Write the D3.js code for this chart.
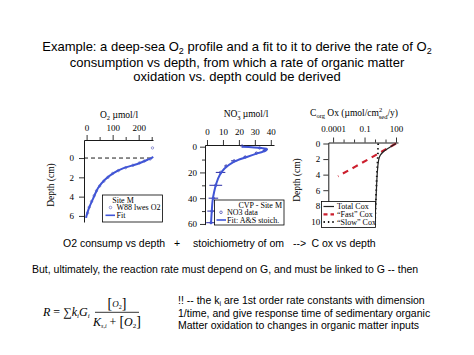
<!DOCTYPE html>
<html>
<head>
<meta charset="utf-8">
<script src="https://cdn.jsdelivr.net/npm/d3@7"></script>
<style>
  body { margin: 0; background: #fff; }
  .sans { font-family: "Liberation Sans", Arial, sans-serif; }
  .serif { font-family: "Liberation Serif", "Times New Roman", serif; }
</style>
</head>
<body>
<svg width="474" height="355"></svg>
<script>
// ---- O2 profile (umol/l vs depth cm)
var o2FitDepth = [-0.15, 0, 0.18, 0.62, 1.04, 1.56, 2.25, 3.1, 4.2, 5.2, 6.05, 6.2];
var o2FitValue = [255, 250, 234, 195, 142, 103, 70, 44, 25, 9, -1, -2];
var o2DataDepth = [-1.05, 0.1, 0.3, 0.5, 0.75, 1.0, 1.3, 1.6, 2.0, 2.4, 2.9, 3.4, 3.9, 4.5, 5.1, 5.7];
var o2DataValue = [253, 244, 222, 203, 178, 150, 122, 100, 82, 66, 50, 38, 29, 19, 10, 4];
var o2Ticks = [0, 100, 200];
var o2Minor = [50, 150, 250];
var o2DepthTicks = [0, 2, 4, 6];

// ---- NO3 profile
var no3FitDepth = [0, 1, 2, 3, 5, 8, 12, 17, 22, 28, 35, 42, 50, 60];
var no3FitValue = [22, 34, 37.5, 37, 32, 25, 16.5, 11, 8, 6, 4.5, 3.5, 3, 2.5];
var no3DataDepth = [-0.5, 1, 2, 3, 5, 8, 11, 15, 20, 30, 40, 50, 59];
var no3DataValue = [22, 33, 37, 36, 31, 24, 17, 12, 8.5, 5.5, 4, 3.2, 2.5];
var no3DataErr = [0, 0, 1, 1, 1, 1, 2, 1, 3, 4, 3, 3, 3];
var no3Ticks = [0, 10, 20, 30, 40];
var no3DepthTicks = [0, 20, 40, 60];
var no3DepthMinor = [10, 30, 50];

// ---- Corg oxidation
var coxTotalDepth = [0, 0.5, 1, 1.5, 2, 2.3, 4, 6, 8, 10];
var coxTotal = [100, 24, 7, 3.2, 2.3, 2.1, 1.6, 1.35, 1.15, 1.0];
var coxFastDepth = [0, 1, 2, 3, 4.2];
var coxFast = [100, 5, 0.25, 0.012, 0.0003];
var coxSlowDepth = [0, 2, 4, 6, 8, 10];
var coxSlow = [2.0, 1.8, 1.5, 1.3, 1.15, 1.0];
var coxTicks = [0.0001, 0.1, 100];
var coxMinor = [0.001, 0.01, 1, 10];
var coxDepthTicks = [0, 2, 4, 6, 8, 10];

var fitBlue = "#4055d6";
var serif = "Liberation Serif, Times New Roman, serif";

var svg = d3.select("svg");

function zip(a, b) {
  return a.map(function(d, i) { return [d, b[i]]; });
}

function styleAxis(g) {
  g.selectAll("text").attr("font-family", serif).attr("font-size", 9).attr("fill", "#000");
  g.selectAll("line").attr("stroke", "#000").attr("stroke-width", 0.8);
  g.select(".domain").attr("stroke", "#000").attr("stroke-width", 0.9);
}

function drawAxes(sx, sy, xTicks, xMinor, yTicks, yMinor, xfmt, xpad, ypad) {
  var top = sy.range()[0], left = sx.range()[0];
  var gx = svg.append("g").attr("transform", "translate(0," + top + ")")
      .call(d3.axisTop(sx).tickValues(xTicks).tickSize(5).tickSizeOuter(0).tickPadding(xpad).tickFormat(xfmt));
  styleAxis(gx);
  if (xMinor.length) {
    var gm = svg.append("g").attr("transform", "translate(0," + top + ")")
        .call(d3.axisTop(sx).tickValues(xMinor).tickSize(3).tickFormat(""));
    gm.select(".domain").remove();
    styleAxis(gm);
  }
  var gy = svg.append("g").attr("transform", "translate(" + left + ",0)")
      .call(d3.axisLeft(sy).tickValues(yTicks).tickSize(5).tickSizeOuter(0).tickPadding(ypad));
  styleAxis(gy);
  if (yMinor.length) {
    var gn = svg.append("g").attr("transform", "translate(" + left + ",0)")
        .call(d3.axisLeft(sy).tickValues(yMinor).tickSize(3).tickFormat(""));
    gn.select(".domain").remove();
    styleAxis(gn);
  }
}

function depthLabel(x, y) {
  svg.append("text").attr("transform", "translate(" + x + "," + y + ") rotate(-90)")
      .attr("text-anchor", "middle").attr("font-family", serif).attr("font-size", 9.5)
      .text("Depth (cm)");
}

// ================= Plot 1: O2
var x1 = d3.scaleLinear().domain([-10, 255]).range([84, 153]);
var y1 = d3.scaleLinear().domain([-1.87, 6.63]).range([140, 222]);
drawAxes(x1, y1, o2Ticks, o2Minor, o2DepthTicks, [], d3.format("d"), 4, 5);

svg.append("line")
    .attr("x1", x1.range()[0]).attr("x2", x1.range()[1])
    .attr("y1", y1(0)).attr("y2", y1(0))
    .attr("stroke", "#000").attr("stroke-width", 0.9).attr("stroke-dasharray", "4,3");

svg.append("g").selectAll("circle")
    .data(zip(o2DataDepth, o2DataValue))
    .enter().append("circle")
    .attr("cx", function(d) { return x1(d[1]); })
    .attr("cy", function(d) { return y1(d[0]); })
    .attr("r", 1.2)
    .attr("fill", "none").attr("stroke", "#6a6fc0").attr("stroke-width", 0.7);

svg.append("path")
    .datum(zip(o2FitDepth, o2FitValue))
    .attr("d", d3.line().curve(d3.curveCatmullRom)
        .x(function(d) { return x1(d[1]); })
        .y(function(d) { return y1(d[0]); }))
    .attr("fill", "none").attr("stroke", fitBlue).attr("stroke-width", 2);

svg.append("text").attr("x", 119).attr("y", 118).attr("text-anchor", "middle")
    .attr("font-family", serif).attr("font-size", 9.5)
    .call(function(t) {
      t.append("tspan").text("O");
      t.append("tspan").attr("font-size", 6.5).attr("dy", 2).text("2");
      t.append("tspan").attr("dy", -2).text(" \u00b5mol/l");
    });
depthLabel(54, 185);

// legend 1
var lg1 = svg.append("g").attr("font-family", serif).attr("font-size", 8);
lg1.append("rect").attr("x", 102.5).attr("y", 195).attr("width", 60).attr("height", 27)
    .attr("fill", "#fff").attr("stroke", "#000").attr("stroke-width", 0.8);
lg1.append("text").attr("x", 123).attr("y", 202.5).attr("text-anchor", "middle").text("Site M");
lg1.append("circle").attr("cx", 110.5).attr("cy", 207.5).attr("r", 1.3)
    .attr("fill", "none").attr("stroke", "#6a6fc0").attr("stroke-width", 0.7);
lg1.append("text").attr("x", 116.5).attr("y", 210.3).text("W88 lwes O2");
lg1.append("line").attr("x1", 105.5).attr("x2", 115).attr("y1", 215.3).attr("y2", 215.3)
    .attr("stroke", fitBlue).attr("stroke-width", 1.6);
lg1.append("text").attr("x", 116.5).attr("y", 218).text("Fit");

// ================= Plot 2: NO3
var x2 = d3.scaleLinear().domain([-1.25, 42]).range([205, 274]);
var y2 = d3.scaleLinear().domain([-1.3, 60.5]).range([145, 224.6]);
drawAxes(x2, y2, no3Ticks, [], no3DepthTicks, no3DepthMinor, d3.format("d"), 5, 3);

var no3 = no3DataDepth.map(function(d, i) {
  return { depth: d, value: no3DataValue[i], err: no3DataErr[i] };
});
var eb = svg.append("g");
eb.selectAll("line.err")
    .data(no3.filter(function(d) { return d.err > 0; }))
    .enter().append("line").attr("class", "err")
    .attr("x1", function(d) { return x2(d.value - d.err); })
    .attr("x2", function(d) { return x2(d.value + d.err); })
    .attr("y1", function(d) { return y2(d.depth); })
    .attr("y2", function(d) { return y2(d.depth); })
    .attr("stroke", "#3d3fae").attr("stroke-width", 1.1);
eb.selectAll("circle")
    .data(no3)
    .enter().append("circle")
    .attr("cx", function(d) { return x2(d.value); })
    .attr("cy", function(d) { return y2(d.depth); })
    .attr("r", 1.2)
    .attr("fill", "none").attr("stroke", "#3d3fae").attr("stroke-width", 0.8);

svg.append("path")
    .datum(zip(no3FitDepth, no3FitValue))
    .attr("d", d3.line().curve(d3.curveCatmullRom)
        .x(function(d) { return x2(d[1]); })
        .y(function(d) { return y2(d[0]); }))
    .attr("fill", "none").attr("stroke", fitBlue).attr("stroke-width", 2);

svg.append("text").attr("x", 246).attr("y", 117).attr("text-anchor", "middle")
    .attr("font-family", serif).attr("font-size", 9.5)
    .call(function(t) {
      t.append("tspan").text("NO");
      t.append("tspan").attr("font-size", 6.5).attr("dy", -3).text("\u2212");
      t.append("tspan").attr("font-size", 6.5).attr("dx", -4).attr("dy", 5.5).text("3");
      t.append("tspan").attr("dy", -2.5).text(" \u00b5mol/l");
    });

var lg2 = svg.append("g").attr("font-family", serif).attr("font-size", 8);
lg2.append("rect").attr("x", 214.5).attr("y", 200).attr("width", 69.5).attr("height", 25)
    .attr("fill", "#fff").attr("stroke", "#000").attr("stroke-width", 0.8);
lg2.append("text").attr("x", 282).attr("y", 207.5).attr("text-anchor", "end").text("CVP - Site M");
lg2.append("circle").attr("cx", 221).attr("cy", 212.3).attr("r", 1.3)
    .attr("fill", "none").attr("stroke", "#3d3fae").attr("stroke-width", 0.7);
lg2.append("text").attr("x", 227).attr("y", 215).text("NO3 data");
lg2.append("line").attr("x1", 216.5).attr("x2", 226).attr("y1", 220).attr("y2", 220)
    .attr("stroke", fitBlue).attr("stroke-width", 1.6);
lg2.append("text").attr("x", 227).attr("y", 222.8).text("Fit: A&S stoich.");

// ================= Plot 3: Cox
var x3 = d3.scaleLog().domain([3.5e-5, 155]).range([328.3, 398]);
var y3 = d3.scaleLinear().domain([-0.13, 10.5]).range([142.5, 225.2]);
drawAxes(x3, y3, coxTicks, coxMinor, coxDepthTicks, [], function(d) { return String(d); }, 6, 3);

var lineCox = d3.line()
    .x(function(d) { return x3(d[1]); })
    .y(function(d) { return y3(d[0]); });

svg.append("path").datum(zip(coxSlowDepth, coxSlow)).attr("d", lineCox)
    .attr("fill", "none").attr("stroke", "#111").attr("stroke-width", 1.8)
    .attr("stroke-dasharray", "1.4,3.2");
svg.append("path").datum(zip(coxFastDepth, coxFast)).attr("d", lineCox)
    .attr("fill", "none").attr("stroke", "#cc1f2e").attr("stroke-width", 2.2)
    .attr("stroke-dasharray", "6,5");
svg.append("path").datum(zip(coxTotalDepth, coxTotal)).attr("d", lineCox.curve(d3.curveMonotoneY))
    .attr("fill", "none").attr("stroke", "#222").attr("stroke-width", 1.2);

svg.append("text").attr("x", 354).attr("y", 116).attr("text-anchor", "middle")
    .attr("font-family", serif).attr("font-size", 9.5)
    .call(function(t) {
      t.append("tspan").text("C");
      t.append("tspan").attr("font-size", 6.5).attr("dy", 2).text("org");
      t.append("tspan").attr("dy", -2).text(" Ox (\u00b5mol/cm");
      t.append("tspan").attr("font-size", 6.5).attr("dy", -4).text("2");
      t.append("tspan").attr("font-size", 6.5).attr("dx", -3.5).attr("dy", 6.5).text("sed");
      t.append("tspan").attr("dy", -2.5).text("/y)");
    });
depthLabel(300, 180);

var lg3 = svg.append("g").attr("font-family", serif).attr("font-size", 8);
lg3.append("rect").attr("x", 321.5).attr("y", 201.5).attr("width", 54).attr("height", 26)
    .attr("fill", "#fff").attr("stroke", "#000").attr("stroke-width", 0.8);
lg3.append("line").attr("x1", 323.5).attr("x2", 334).attr("y1", 206.5).attr("y2", 206.5)
    .attr("stroke", "#222").attr("stroke-width", 1.2);
lg3.append("text").attr("x", 337).attr("y", 209.3).text("Total Cox");
lg3.append("line").attr("x1", 323.5).attr("x2", 334).attr("y1", 214.3).attr("y2", 214.3)
    .attr("stroke", "#cc1f2e").attr("stroke-width", 2.2).attr("stroke-dasharray", "4,3");
lg3.append("text").attr("x", 337).attr("y", 217).text("\u201cFast\u201d Cox");
lg3.append("line").attr("x1", 323.5).attr("x2", 334).attr("y1", 222).attr("y2", 222)
    .attr("stroke", "#111").attr("stroke-width", 1.8).attr("stroke-dasharray", "1.4,3");
lg3.append("text").attr("x", 337).attr("y", 224.8).text("\u201cSlow\u201d Cox");

// ================= Text
var title = svg.append("text").attr("class", "sans").attr("font-size", 13)
    .attr("text-anchor", "middle").attr("fill", "#000");
title.append("tspan").attr("x", 237).attr("y", 51).text("Example: a deep-sea O");
title.append("tspan").attr("font-size", 9).attr("dy", 3).text("2");
title.append("tspan").attr("dy", -3).text(" profile and a fit to it to derive the rate of O");
title.append("tspan").attr("font-size", 9).attr("dy", 3).text("2");
svg.append("text").attr("class", "sans").attr("font-size", 13).attr("text-anchor", "middle")
    .attr("x", 237).attr("y", 66.5).text("consumption vs depth, from which a rate of organic matter");
svg.append("text").attr("class", "sans").attr("font-size", 13).attr("text-anchor", "middle")
    .attr("x", 237).attr("y", 81).text("oxidation vs. depth could be derived");

var steps = [["O2 consump vs depth", 63], ["+", 174], ["stoichiometry of om", 193], ["-->", 293], ["C ox vs depth", 311.5]];
svg.append("g").selectAll("text").data(steps).enter().append("text")
    .attr("class", "sans").attr("font-size", 10.5)
    .attr("x", function(d) { return d[1]; }).attr("y", 246.5)
    .text(function(d) { return d[0]; });

svg.append("text").attr("class", "sans").attr("font-size", 10.5)
    .attr("x", 32).attr("y", 273)
    .text("But, ultimately, the reaction rate must depend on G, and must be linked to G -- then");

var note = svg.append("text").attr("class", "sans").attr("font-size", 10.5);
note.append("tspan").attr("x", 178).attr("y", 303.5).text("!! -- the k");
note.append("tspan").attr("font-size", 7).attr("dy", 2).text("i");
note.append("tspan").attr("dy", -2).text(" are 1st order rate constants with dimension");
note.append("tspan").attr("x", 178).attr("y", 316.5).text("1/time, and give response time of sedimentary organic");
note.append("tspan").attr("x", 178).attr("y", 328.5).text("Matter oxidation to changes in organic matter inputs");

// rate law
var eq = svg.append("g").attr("font-family", serif).attr("font-size", 12);
var lhs = eq.append("text").attr("x", 43).attr("y", 316);
lhs.append("tspan").attr("font-style", "italic").text("R");
lhs.append("tspan").text(" = \u2211");
lhs.append("tspan").attr("font-style", "italic").text("k");
lhs.append("tspan").attr("font-size", 7).attr("font-style", "italic").attr("dy", 2).text("i");
lhs.append("tspan").attr("font-style", "italic").attr("dy", -2).text("G");
lhs.append("tspan").attr("font-size", 7).attr("font-style", "italic").attr("dy", 2).text("i");
eq.append("line").attr("x1", 95).attr("x2", 139).attr("y1", 312.3).attr("y2", 312.3)
    .attr("stroke", "#000").attr("stroke-width", 0.8);
var num = eq.append("text").attr("x", 117).attr("y", 308).attr("text-anchor", "middle");
num.append("tspan").attr("font-size", 14).text("[");
num.append("tspan").attr("font-style", "italic").attr("font-size", 9).attr("dy", -1).text("O");
num.append("tspan").attr("font-size", 6).attr("dy", 2).text("2");
num.append("tspan").attr("font-size", 14).attr("dy", -1).text("]");
var den = eq.append("text").attr("x", 117).attr("y", 326).attr("text-anchor", "middle");
den.append("tspan").attr("font-style", "italic").text("K");
den.append("tspan").attr("font-size", 6).attr("font-style", "italic").attr("dy", 2).text("s,i");
den.append("tspan").attr("dy", -2).text(" + ");
den.append("tspan").attr("font-size", 14).text("[");
den.append("tspan").attr("font-style", "italic").text("O");
den.append("tspan").attr("font-size", 7).attr("dy", 2).text("2");
den.append("tspan").attr("font-size", 14).attr("dy", -2).text("]");
</script>
</body>
</html>
